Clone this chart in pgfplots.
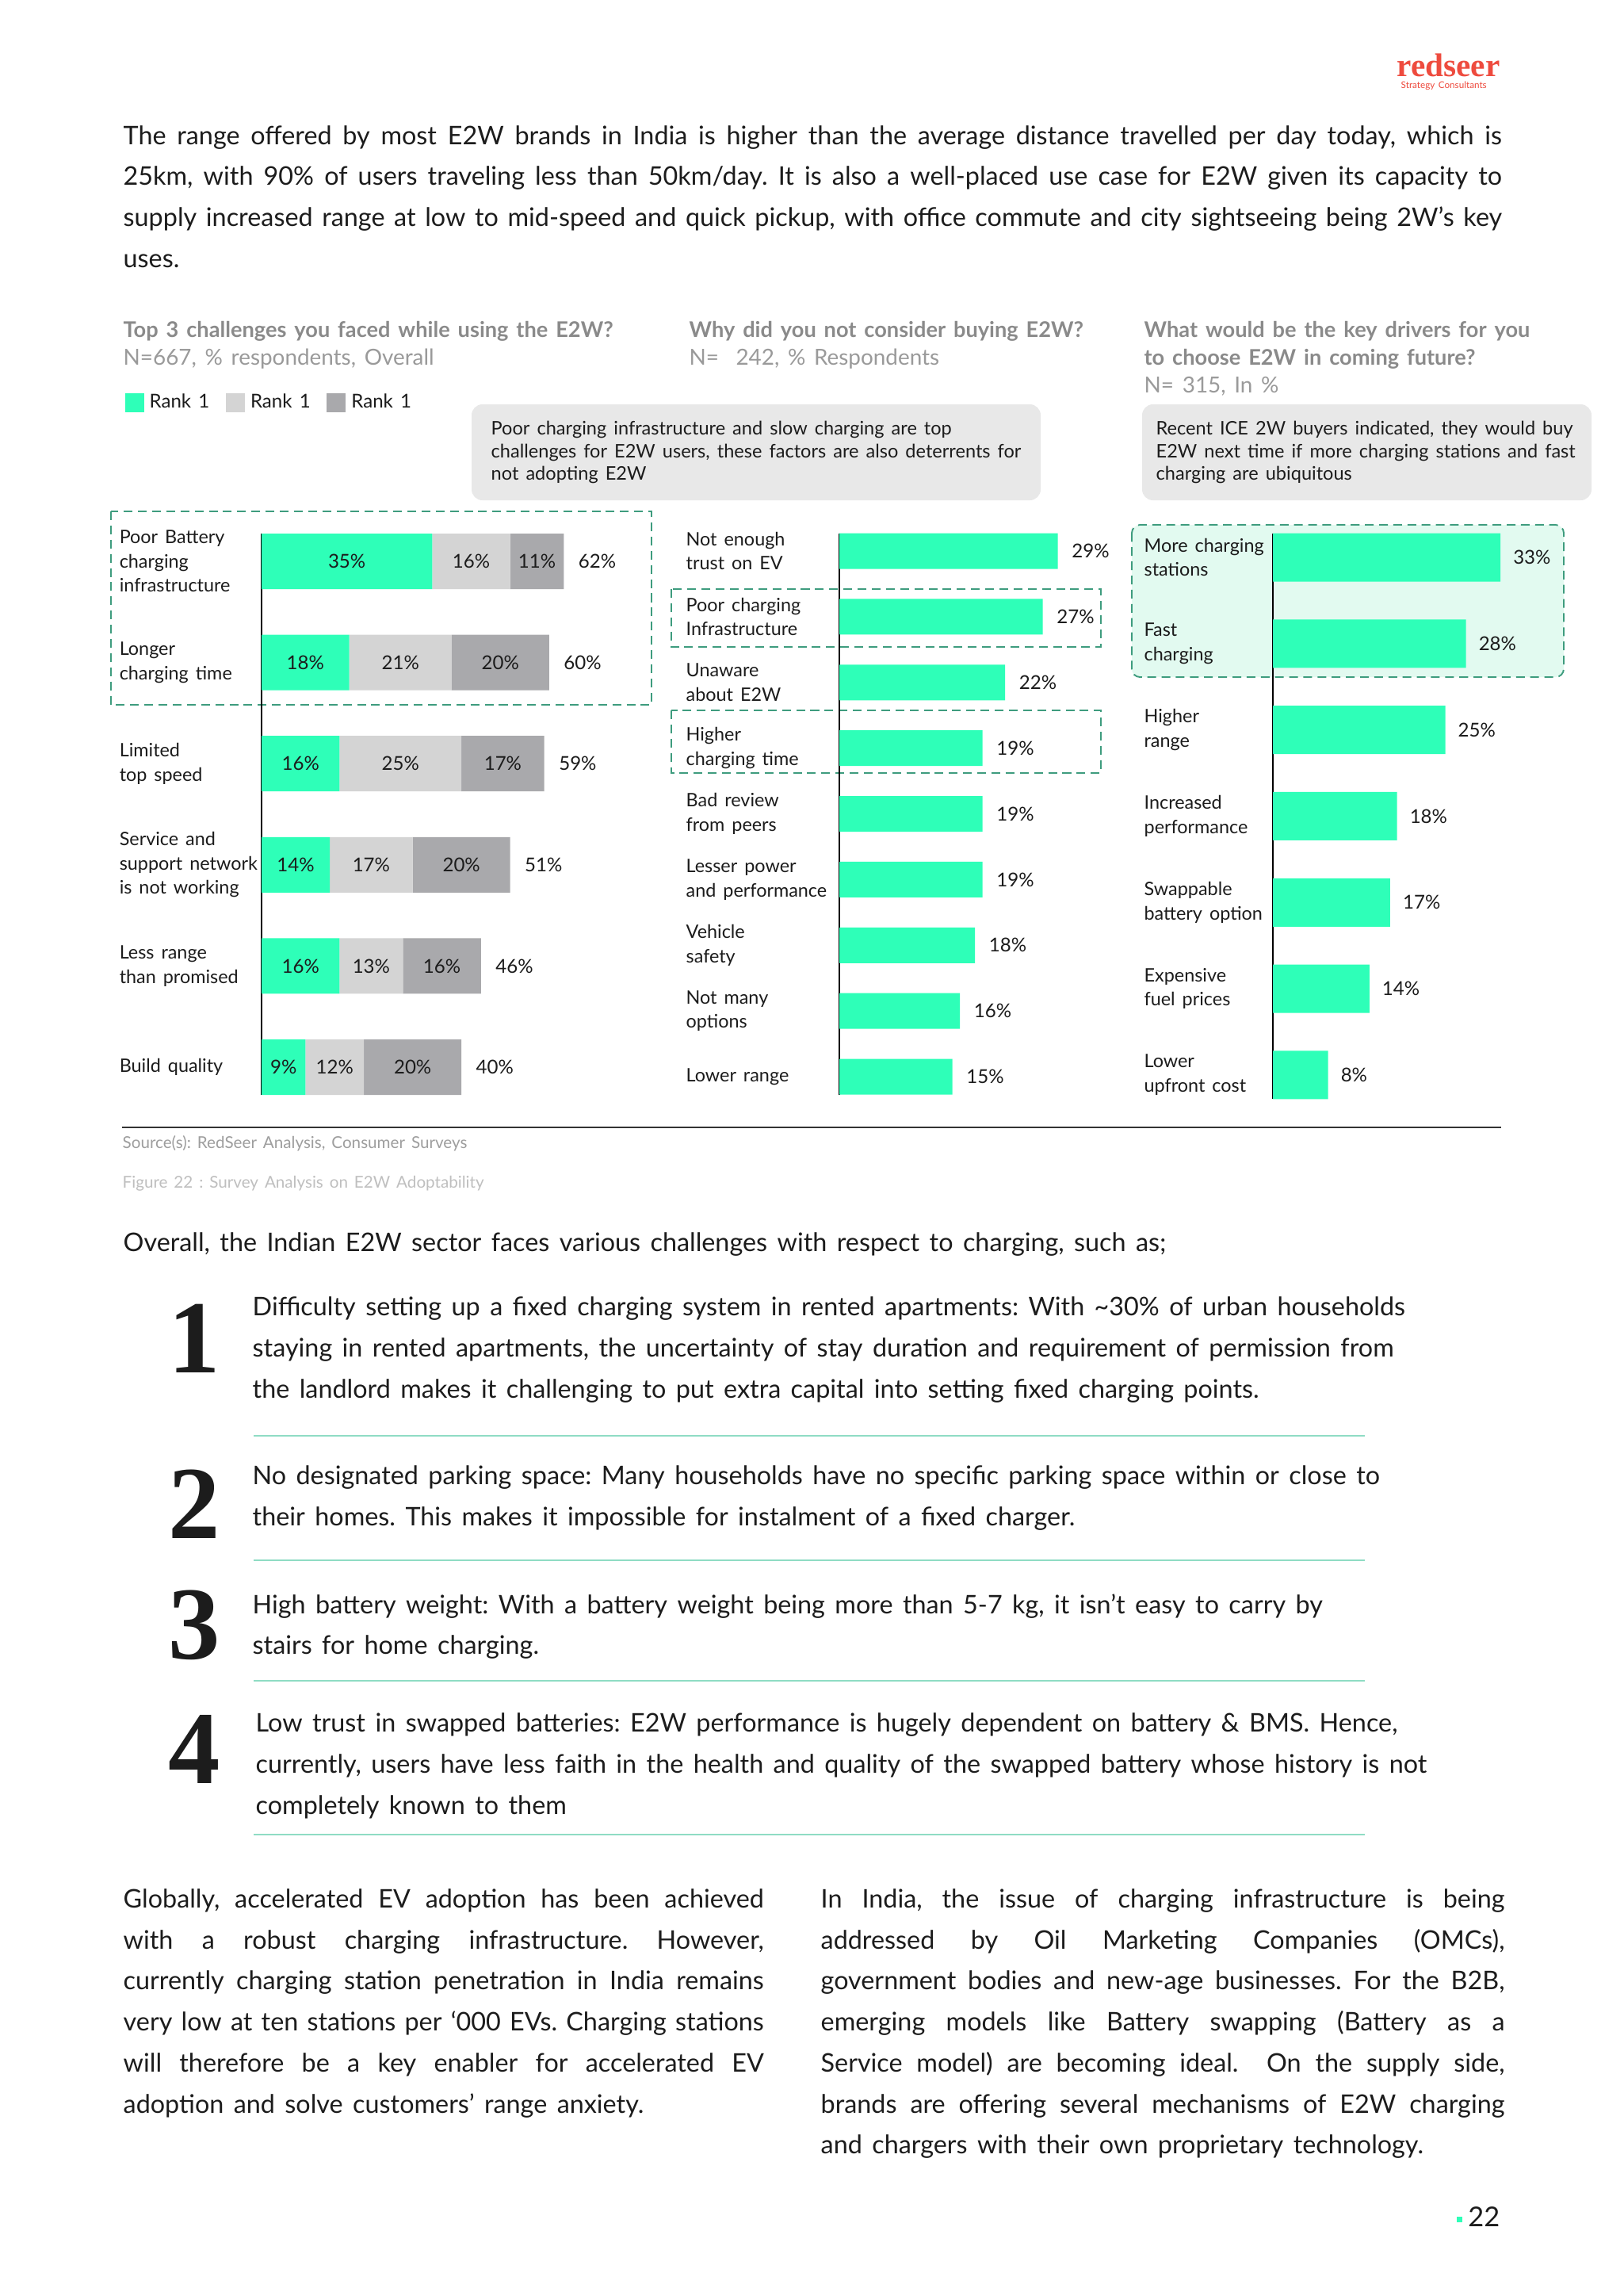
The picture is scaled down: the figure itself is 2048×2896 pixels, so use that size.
\documentclass[border=0pt]{standalone}
\usepackage{fontspec}
\setmainfont{Lato}[WordSpace=1.5]
\newfontfamily\numfont{Liberation Serif}
\usepackage{pgfplots}
\usepackage{pgfplotstable}
\pgfplotsset{compat=1.18}
\frenchspacing

\definecolor{mint}{HTML}{2EFFB8}
\definecolor{lgrey}{HTML}{D4D4D4}
\definecolor{dgrey}{HTML}{A9A9AC}
\definecolor{boxline}{HTML}{3E9C7E}
\definecolor{boxfill}{HTML}{E2FAF0}
\definecolor{callout}{HTML}{E8E8E8}
\definecolor{titlegrey}{HTML}{8A8A8A}
\definecolor{subgrey}{HTML}{9A9A9A}
\definecolor{ink}{HTML}{1C1C1C}
\definecolor{rs}{HTML}{EE4B3E}
\definecolor{sepline}{HTML}{8FDCC4}

\newcommand{\fs}[2]{\fontsize{#1}{#2}\selectfont}
\newcommand{\jline}[3]{\node[anchor=base west,inner sep=0pt,text=ink,font=\fs{9.4}{15}] at (#1) {\makebox[#2][s]{#3}};}
\newcommand{\tline}[2]{\node[anchor=base west,inner sep=0pt,text=ink,font=\fs{9.4}{15}] at (#1) {#2};}

% chart 1: three ranks per challenge
\pgfplotstableread{
row g l d
0 35 16 11
1 18 21 20
2 16 25 17
3 14 17 20
4 16 13 16
5 9 12 20
}\chartone

% centres of the chart 1 segments, for their labels
\pgfplotstableread{
c row lab
17.5 0 35
43 0 16
56.5 0 11
9 1 18
28.5 1 21
49 1 20
8 2 16
28.5 2 25
49.5 2 17
7 3 14
22.5 3 17
41 3 20
8 4 16
22.5 4 13
37 4 16
4.5 5 9
15 5 12
31 5 20
}\chartonelabels

% bar ends and printed totals of chart 1
\pgfplotstableread{
e row tot
62 0 62
59 1 60
58 2 59
51 3 51
45 4 46
41 5 40
}\chartonetotals

\pgfplotsset{
  hbase/.style={scale only axis, clip=false, y dir=reverse, xmin=0,
    xtick=\empty, major tick length=0pt,
    axis x line=none, axis y line*=left,
    y axis line style={-, line width=0.6pt, black},
    /pgf/number format/assume math mode=true,
    yticklabel style={anchor=west, align=left, inner sep=0pt, font=\fs{6.8}{8.9}, text=ink}},
  g1/.style={at={(c1)}, anchor=north west, width=125.13pt, height=205.8pt,
    xmax=70, ymin=-0.2743, ymax=5.2743},
  g2/.style={at={(c2)}, anchor=north west, width=82.84pt, height=205.8pt,
    xmax=30, ymin=-0.2715, ymax=8.2715},
  g3/.style={at={(c3)}, anchor=north west, width=88.5pt, height=207.5pt,
    xmax=35, ymin=-0.2803, ymax=6.2803},
  vlab/.style={every node near coord/.append style={anchor=west, inner sep=0pt, xshift=#1, font=\fs{7}{8}, text=ink}},
}

\begin{document}
\begin{tikzpicture}
\begin{scope}[x=0.29066pt, y=-0.29066pt]
\useasboundingbox (0,0) rectangle (2048,2896);
\fill[white] (0,0) rectangle (2048,2896);
\coordinate (c1) at (330,673);
\coordinate (c2) at (1059,672.5);
\coordinate (c3) at (1606,672.5);

% header
\node[anchor=base east, inner sep=0pt, text=rs, font=\numfont\bfseries\fs{12}{12}] at (1893,96) {redseer};
\node[anchor=base west, inner sep=0pt, text=rs, font=\fs{3.4}{4}] at (1767,111) {Strategy Consultants};

% intro paragraph
\jline{155,182}{505.5pt}{The range offered by most E2W brands in India is higher than the average distance travelled per day today, which is}
\jline{155,233.5}{505.5pt}{25km, with 90\% of users traveling less than 50km/day. It is also a well-placed use case for E2W given its capacity to}
\jline{155,285}{505.5pt}{supply increased range at low to mid-speed and quick pickup, with office commute and city sightseeing being 2W's key}
\tline{155,337}{uses.}

% chart titles
\node[anchor=base west, inner sep=0pt, text=titlegrey, font=\bfseries\fs{7.9}{9}] at (155,425) {Top 3 challenges you faced while using the E2W?};
\node[anchor=base west, inner sep=0pt, text=subgrey, font=\fs{8.1}{9}] at (155,460) {N=667, \% respondents, Overall};
\node[anchor=base west, inner sep=0pt, text=titlegrey, font=\bfseries\fs{7.9}{9}] at (869,425) {Why did you not consider buying E2W?};
\node[anchor=base west, inner sep=0pt, text=subgrey, font=\fs{8.1}{9}] at (869,460) {N=\ \ 242, \% Respondents};
\node[anchor=base west, inner sep=0pt, text=titlegrey, font=\bfseries\fs{7.9}{9}] at (1443,425) {What would be the key drivers for you};
\node[anchor=base west, inner sep=0pt, text=titlegrey, font=\bfseries\fs{7.9}{9}] at (1443,460) {to choose E2W in coming future?};
\node[anchor=base west, inner sep=0pt, text=subgrey, font=\fs{8.1}{9}] at (1443,495) {N= 315, In \%};

% callouts
\fill[callout, rounded corners=4pt] (595,510) rectangle (1313,631);
\node[anchor=base west, inner sep=0pt, text=ink, font=\fs{6.85}{8}] at (619,548) {Poor charging infrastructure and slow charging are top};
\node[anchor=base west, inner sep=0pt, text=ink, font=\fs{6.85}{8}] at (619,577) {challenges for E2W users, these factors are also deterrents for};
\node[anchor=base west, inner sep=0pt, text=ink, font=\fs{6.85}{8}] at (619,605) {not adopting E2W};
\fill[callout, rounded corners=4pt] (1441,510) rectangle (2008,631);
\node[anchor=base west, inner sep=0pt, text=ink, font=\fs{6.85}{8}] at (1458,548) {Recent ICE 2W buyers indicated, they would buy};
\node[anchor=base west, inner sep=0pt, text=ink, font=\fs{6.85}{8}] at (1458,577) {E2W next time if more charging stations and fast};
\node[anchor=base west, inner sep=0pt, text=ink, font=\fs{6.85}{8}] at (1458,605) {charging are ubiquitous};

% highlight boxes
\draw[boxline, dash pattern=on 3.2pt off 2pt, line width=0.55pt] (140,645) rectangle (822,889);
\draw[boxline, dash pattern=on 3.2pt off 2pt, line width=0.55pt] (847,743) rectangle (1389,816);
\draw[boxline, dash pattern=on 3.2pt off 2pt, line width=0.55pt] (847,896) rectangle (1389,975);
\draw[boxline, fill=boxfill, dash pattern=on 3.2pt off 2pt, line width=0.55pt, rounded corners=3pt] (1428,662) rectangle (1973,854);

% source and caption
\draw[black!80, line width=0.6pt] (154,1422) -- (1894,1422);
\node[anchor=base west, inner sep=0pt, text=black!38, font=\fs{6}{7}] at (154,1448) {Source(s): RedSeer Analysis, Consumer Surveys};
\node[anchor=base west, inner sep=0pt, text=black!25, font=\fs{6}{7}] at (154,1498) {Figure 22 : Survey Analysis on E2W Adoptability};

% list of challenges
\tline{155,1578}{Overall, the Indian E2W sector faces various challenges with respect to charging, such as;}

\node[anchor=base west, inner sep=0pt, text=ink, font=\numfont\bfseries\fs{38}{38}] at (212,1731) {1};
\tline{318,1659}{Difficulty setting up a fixed charging system in rented apartments: With \textasciitilde30\% of urban households}
\tline{318,1711}{staying in rented apartments, the uncertainty of stay duration and requirement of permission from}
\tline{318,1763}{the landlord makes it challenging to put extra capital into setting fixed charging points.}
\draw[sepline, line width=0.45pt] (320,1811) -- (1722,1811);

\node[anchor=base west, inner sep=0pt, text=ink, font=\numfont\bfseries\fs{38}{38}] at (212,1940) {2};
\tline{318,1872}{No designated parking space: Many households have no specific parking space within or close to}
\tline{318,1924}{their homes. This makes it impossible for instalment of a fixed charger.}
\draw[sepline, line width=0.45pt] (320,1968) -- (1722,1968);

\node[anchor=base west, inner sep=0pt, text=ink, font=\numfont\bfseries\fs{38}{38}] at (212,2092) {3};
\tline{318,2035}{High battery weight: With a battery weight being more than 5-7 kg, it isn't easy to carry by}
\tline{318,2086}{stairs for home charging.}
\draw[sepline, line width=0.45pt] (320,2120) -- (1722,2120);

\node[anchor=base west, inner sep=0pt, text=ink, font=\numfont\bfseries\fs{38}{38}] at (212,2249) {4};
\tline{322,2184}{Low trust in swapped batteries: E2W performance is hugely dependent on battery \& BMS. Hence,}
\tline{322,2236}{currently, users have less faith in the health and quality of the swapped battery whose history is not}
\tline{322,2288}{completely known to them}
\draw[sepline, line width=0.45pt] (320,2314) -- (1722,2314);

% two columns
\jline{155,2406}{234.9pt}{Globally, accelerated EV adoption has been achieved}
\jline{155,2458}{234.9pt}{with a robust charging infrastructure. However,}
\jline{155,2509}{234.9pt}{currently charging station penetration in India remains}
\jline{155,2561}{234.9pt}{very low at ten stations per ‘000 EVs. Charging stations}
\jline{155,2613}{234.9pt}{will therefore be a key enabler for accelerated EV}
\tline{155,2665}{adoption and solve customers' range anxiety.}

\jline{1035,2406}{250.8pt}{In India, the issue of charging infrastructure is being}
\jline{1035,2458}{250.8pt}{addressed by Oil Marketing Companies (OMCs),}
\jline{1035,2509}{250.8pt}{government bodies and new-age businesses. For the B2B,}
\jline{1035,2561}{250.8pt}{emerging models like Battery swapping (Battery as a}
\jline{1035,2613}{250.8pt}{Service model) are becoming ideal.\ \ On the supply side,}
\jline{1035,2665}{250.8pt}{brands are offering several mechanisms of E2W charging}
\tline{1035,2716}{and chargers with their own proprietary technology.}

% page number
\fill[mint] (1838,2796) rectangle (1845,2803);
\node[anchor=base east, inner sep=0pt, text=ink, font=\fs{10}{12}] at (1893,2808) {22};
\end{scope}

% chart 1
\begin{axis}[hbase, g1, xbar stacked, bar width=20.35pt,
  ytick={0,...,5},
  yticklabels={{Poor Battery\\charging\\infrastructure},{Longer\\charging time},{Limited\\top speed},{Service and\\support network\\is not working},{Less range\\than promised},{Build quality}},
  yticklabel style={xshift=-52.3pt},
  legend style={at={(axis description cs:-0.4019,1.2599)}, anchor=north west, draw=none, fill=none, inner sep=0pt,
    legend columns=3, font=\fs{7}{8}, text=ink, /tikz/every even column/.append style={column sep=4pt}},
  legend cell align=left,
  legend image code/.code={\fill[#1] (0pt,-3.5pt) rectangle (7pt,3.5pt);}]
\addplot[fill=mint, draw=none] table[x=g, y=row] {\chartone};
\addplot[fill=lgrey, draw=none] table[x=l, y=row] {\chartone};
\addplot[fill=dgrey, draw=none] table[x=d, y=row] {\chartone};
\legend{Rank 1, Rank 1, Rank 1}
\end{axis}
\begin{axis}[hbase, g1, hide axis]
\addplot[draw=none, mark=none, nodes near coords={\pgfplotspointmeta\%}, point meta=explicit symbolic,
  every node near coord/.append style={anchor=center, inner sep=0pt, font=\fs{7}{8}, text=ink}]
  table[x=c, y=row, meta=lab] {\chartonelabels};
\addplot[draw=none, mark=none, nodes near coords={\pgfplotspointmeta\%}, point meta=explicit symbolic,
  every node near coord/.append style={anchor=west, inner sep=0pt, xshift=5.2pt, font=\fs{7}{8}, text=ink}]
  table[x=e, y=row, meta=tot] {\chartonetotals};
\end{axis}

% chart 2
\begin{axis}[hbase, g2, xbar, bar width=13.08pt,
  ytick={0,...,8},
  yticklabels={{Not enough\\trust on EV},{Poor charging\\Infrastructure},{Unaware\\about E2W},{Higher\\charging time},{Bad review\\from peers},{Lesser power\\and performance},{Vehicle\\safety},{Not many\\options},{Lower range}},
  yticklabel style={xshift=-56.4pt}]
\addplot[fill=mint, draw=none, nodes near coords={\pgfmathprintnumber{\pgfplotspointmeta}\%}, vlab=5pt] table[x=v, y=row] {
row v
0 29
1 27
2 22
3 19
4 19
5 19
6 18
7 16
8 15
};
\end{axis}

% chart 3
\begin{axis}[hbase, g3, xbar, bar width=17.73pt,
  ytick={0,...,6},
  yticklabels={{More charging\\stations},{Fast\\charging},{Higher\\range},{Increased\\performance},{Swappable\\battery option},{Expensive\\fuel prices},{Lower\\upfront cost}},
  yticklabel style={xshift=-47.4pt}]
\addplot[fill=mint, draw=none, nodes near coords={\pgfmathprintnumber{\pgfplotspointmeta}\%}, vlab=4.5pt] table[x=v, y=row] {
row v
0 33
1 28
2 25
3 18
4 17
5 14
6 8
};
\end{axis}
\end{tikzpicture}
\end{document}
